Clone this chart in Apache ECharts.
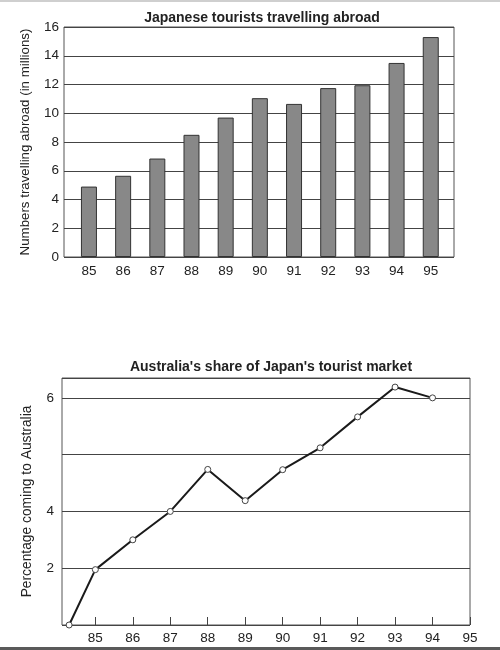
<!DOCTYPE html>
<html>
<head>
<meta charset="utf-8">
<script src="https://cdn.jsdelivr.net/npm/echarts@6/dist/echarts.min.js"></script>
<style>
  html, body { margin: 0; padding: 0; background: #fff; }
  #chart { width: 500px; height: 650px; }
  #topline { position: absolute; left: 0; top: 0; width: 500px; height: 2px; background: #cfcfcf; }
  #bottomband { position: absolute; left: 0; top: 647px; width: 500px; height: 3px; background: #5a5a5a; }
</style>
</head>
<body>
<div id="chart"></div>
<div id="topline"></div>
<div id="bottomband"></div>
<script>
// top chart: Japanese tourists abroad, millions
let years = [85, 86, 87, 88, 89, 90, 91, 92, 93, 94, 95];
let travellers = [4.9, 5.65, 6.85, 8.5, 9.7, 11.05, 10.65, 11.75, 11.95, 13.5, 15.3];

// bottom chart: Australia's share. values are in the plot's evenly spaced grid units,
// the printed axis labels the grid lines 2, 4, (blank), 6
let shareYears = [84.3, 85, 86, 87, 88, 89, 90, 91, 92, 93, 94];
let shareValues = [0, 1.95, 3.0, 4.0, 5.48, 4.38, 5.47, 6.24, 7.33, 8.38, 8.0];
let shareTickValues = [2, 4, 8];
let shareTickLabels = ['2', '4', '6'];

let font = 'Liberation Sans, Arial, sans-serif';
let txt = '#222';

let chart = echarts.init(document.getElementById('chart'));

let option = {
  animation: false,
  backgroundColor: '#fff',
  title: [
    {
      text: 'Japanese tourists travelling abroad',
      left: 257, top: 6, textAlign: 'center',
      textStyle: { fontFamily: font, fontSize: 14, fontWeight: 'bold', color: txt }
    },
    {
      text: "Australia's share of Japan's tourist market",
      left: 266, top: 355, textAlign: 'center',
      textStyle: { fontFamily: font, fontSize: 14, fontWeight: 'bold', color: txt }
    }
  ],
  grid: [
    { left: 64, top: 27, width: 390, height: 230, show: true, borderColor: '#555', borderWidth: 1 },
    { left: 62, top: 378, width: 408, height: 247, show: true, borderColor: '#555', borderWidth: 1 }
  ],
  xAxis: [
    {
      gridIndex: 0, type: 'value', min: 84.27, max: 95.68,
      axisLine: { show: false }, axisTick: { show: false }, splitLine: { show: false },
      axisLabel: { customValues: years, margin: 7, fontFamily: font, fontSize: 13.5, color: txt }
    },
    {
      gridIndex: 1, type: 'value', min: 84.11, max: 95,
      axisLine: { show: false }, splitLine: { show: false },
      axisTick: { show: true, customValues: years, inside: true, length: 8, lineStyle: { color: '#444' } },
      axisLabel: { customValues: years, margin: 6, fontFamily: font, fontSize: 13.5, color: txt }
    }
  ],
  yAxis: [
    {
      gridIndex: 0, type: 'value', min: 0, max: 16, interval: 2,
      name: 'Numbers travelling abroad (in millions)', nameLocation: 'middle', nameGap: 32,
      nameTextStyle: { fontFamily: font, fontSize: 13.3, color: txt },
      axisLine: { show: false }, axisTick: { show: false },
      splitLine: { lineStyle: { color: '#444', width: 1 } },
      axisLabel: { margin: 5, fontFamily: font, fontSize: 13.5, color: txt }
    },
    {
      gridIndex: 1, type: 'value', min: 0, max: 8.7, interval: 2,
      name: 'Percentage coming to Australia', nameLocation: 'middle', nameGap: 28,
      nameTextStyle: { fontFamily: font, fontSize: 13.8, color: txt },
      axisLine: { show: false }, axisTick: { show: false },
      splitLine: { lineStyle: { color: '#444', width: 1 } },
      axisLabel: {
        margin: 8, fontFamily: font, fontSize: 13.5, color: txt,
        formatter: function (v) {
          let i = shareTickValues.indexOf(v);
          return i >= 0 ? shareTickLabels[i] : '';
        }
      }
    }
  ],
  series: [
    {
      type: 'bar', xAxisIndex: 0, yAxisIndex: 0, barWidth: 16,
      data: years.map(function (y, i) { return [y, travellers[i]]; }),
      itemStyle: { color: '#888', borderColor: '#333', borderWidth: 1 }
    },
    {
      type: 'line', xAxisIndex: 1, yAxisIndex: 1,
      data: shareYears.map(function (y, i) { return [y, shareValues[i]]; }),
      lineStyle: { color: '#1a1a1a', width: 2 },
      symbol: 'circle', symbolSize: 6,
      itemStyle: { color: '#fff', borderColor: '#444', borderWidth: 1 }
    }
  ]
};

chart.setOption(option);
</script>
</body>
</html>
